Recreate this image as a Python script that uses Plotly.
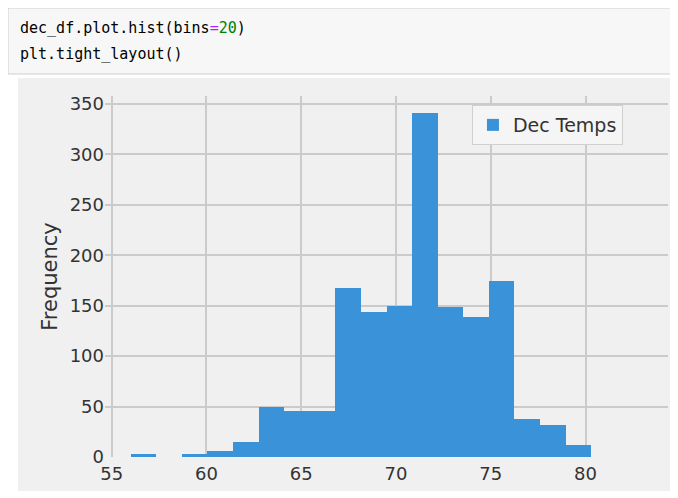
import plotly.graph_objects as go

bin_edges = [56, 57.35, 58.7, 60.05, 61.4, 62.75, 64.1, 65.45, 66.8, 68.15, 69.5,
             70.85, 72.2, 73.55, 74.9, 76.25, 77.6, 78.95, 80.3, 81.65, 83]
counts = [3, 0, 3, 6, 15, 50, 46, 46, 168, 144, 150, 341, 149, 139, 175, 38, 32, 12, 0, 0]
x_ticks = [55, 60, 65, 70, 75, 80]
y_ticks = [0, 50, 100, 150, 200, 250, 300, 350]

centers = [(a + b) / 2 for a, b in zip(bin_edges[:-1], bin_edges[1:])]
widths = [b - a for a, b in zip(bin_edges[:-1], bin_edges[1:])]

fig = go.Figure(go.Bar(x=centers, y=counts, width=widths, name="Dec Temps",
                       marker=dict(color="#3a92d9", line=dict(width=0))))

L, R, T, B = 97, 18, 88, 49
W, H = 678, 498
pw, ph = W - L - R, H - T - B
def px(x): return (x - L) / pw
def py(y): return (H - B - y) / ph

fig.update_layout(
    width=W, height=H, margin=dict(l=L, r=R, t=T, b=B, autoexpand=False),
    paper_bgcolor="white", plot_bgcolor="#f0f0f0", bargap=0,
    font=dict(family="DejaVu Sans", color="#333333", size=18),
    xaxis=dict(range=[54.65, 84.35], tickvals=x_ticks, showgrid=True, gridcolor="#cbcbcb",
               gridwidth=1.5, zeroline=False, showline=False, ticks="", automargin=False,
               ticklabelstandoff=4),
    yaxis=dict(range=[0, 358], tickvals=y_ticks, showgrid=True, gridcolor="#cbcbcb",
               gridwidth=1.5, zeroline=False, showline=False, ticks="", automargin=False,
               title=dict(text="Frequency", font=dict(size=21), standoff=6)),
    showlegend=True,
    legend=dict(x=0.92, y=0.975, xanchor="right", yanchor="top", bgcolor="#f5f5f5",
                bordercolor="#d0d0d0", borderwidth=1, font=dict(size=19)),
    shapes=[
        dict(type="rect", xref="paper", yref="paper", x0=px(10), x1=px(678), y0=py(483), y1=py(70),
             fillcolor="#f0f0f0", line=dict(width=0), layer="below"),
        dict(type="rect", xref="paper", yref="paper", x0=px(0), x1=px(677), y0=py(66), y1=py(0),
             fillcolor="#f7f7f7", line=dict(color="#cfcfcf", width=1), layer="below"),
    ],
    annotations=[
        dict(xref="paper", yref="paper", x=px(10), y=py(20), xanchor="left", yanchor="middle",
             showarrow=False, font=dict(family="DejaVu Sans Mono", size=15, color="#000"),
             text="dec_df.plot.hist(bins<span style='color:#aa22ff'>=</span><span style='color:#008000'>20</span>)"),
        dict(xref="paper", yref="paper", x=px(10), y=py(46), xanchor="left", yanchor="middle",
             showarrow=False, font=dict(family="DejaVu Sans Mono", size=15, color="#000"),
             text="plt.tight_layout()"),
    ],
)
fig.write_html("out.html")
